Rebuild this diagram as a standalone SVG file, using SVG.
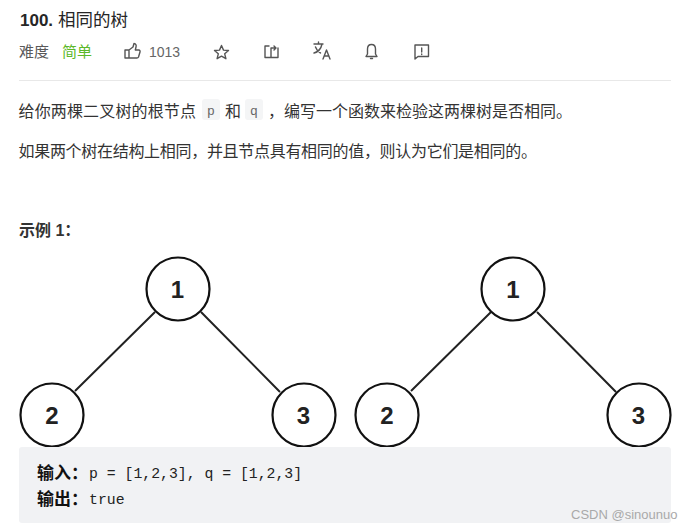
<svg xmlns="http://www.w3.org/2000/svg" width="694" height="529" viewBox="0 0 694 529">
<style>
text{font-family:"Liberation Sans","Noto Sans CJK SC",sans-serif;fill:#262626}
.b{font-size:16px;fill:#333}
.h{font-weight:bold}
.k{font-size:17px;font-weight:bold;fill:#111}
.m{font-family:"Liberation Mono","Noto Sans CJK SC",monospace;font-size:14.8px;fill:#222}
.c{font-family:"Liberation Mono",monospace;font-size:13px;fill:#666;text-anchor:middle}
.chip{fill:#f4f5f6}
.ic{fill:none;stroke:#555;stroke-width:1.4;stroke-linejoin:round;stroke-linecap:round}
.node{fill:#fff;stroke:#111;stroke-width:2.2}
.edge{stroke:#222;stroke-width:2;fill:none}
.n{font-size:24px;font-weight:bold;fill:#222;text-anchor:middle}
</style>
<rect width="694" height="529" fill="#fff"/>
<text x="20" y="26" font-size="17" font-weight="bold">100.</text>
<text x="58" y="26" font-size="17.500">相同的树</text>
<text x="19" y="57" style="font-size:15px;fill:#595959">难度</text>
<text x="62" y="57" style="font-size:15px;fill:#5cb82a">简单</text>
<g id="icons" class="ic">
<path d="M125 50v8h4v-8zM129 50l4-3 1-3.500c2 0 2.500 2 2 3.500l-.7 3h3.500c1 0 1.500 1 1.200 2l-1.500 5c-.3.800-1 1-1.700 1H129"/>
<path d="M221.500 45.500l2 4.600 5 .4-3.800 3.300 1.200 4.900-4.400-2.600-4.400 2.600 1.200-4.900-3.800-3.300 5-.4z"/>
<path d="M269 46h-4v11.500h13V48M271 57v-9h3.500M274 46l2 2-2 2"/>
<path d="M314 47h9M318.500 45v2M322 47c-1 5-4 8-8 9M315.500 50c1 3 3 5 5 6M323 62l3.500-9 3.500 9M324.300 59h4.500" transform="translate(0 -3)"/>
<path d="M371.500 44.500c-2.500 0-4 2-4 4.500v5l-1.500 2.500h11l-1.500-2.500v-5c0-2.500-1.500-4.500-4-4.500zM370.500 58.500h2"/>
<path d="M415 45h13.500v11.500h-10.500l-3 2.500z"/>
<path d="M421.700 48v4M421.700 54v.5"/>
</g>
<text x="149" y="57" style="font-size:14px;fill:#666">1013</text>
<rect x="19" y="80" width="652" height="1" fill="#e8e8e8"/>
<g id="para">
<text class="b" x="18.500" y="117" letter-spacing="0.150">给你两棵二叉树的根节点</text>
<rect class="chip" x="202" y="99" width="18" height="21" rx="3"/>
<text class="c" x="211" y="115">p</text>
<text class="b" x="225" y="117">和</text>
<rect class="chip" x="245" y="99" width="18" height="21" rx="3"/>
<text class="c" x="254" y="115">q</text>
<text class="b" x="268" y="117">，编写一个函数来检验这两棵树是否相同。</text>
<text class="b" x="18.500" y="157" letter-spacing="-0.300">如果两个树在结构上相同，并且节点具有相同的值，则认为它们是相同的。</text>
<text class="b h" x="19" y="236">示例 1：</text>
</g>
<g id="connectors">
<path class="edge" d="M155 312L75 391M201 312L280 392M491 312L411 391M537 312L616 392"/>
</g>
<g id="tree1-1"><circle class="node" cx="178" cy="289" r="31.500"/><text class="n" x="177.500" y="298">1</text></g>
<g id="tree1-2"><circle class="node" cx="52" cy="415" r="31.500"/><text class="n" x="52" y="424">2</text></g>
<g id="tree1-3"><circle class="node" cx="304" cy="415" r="31.500"/><text class="n" x="303.500" y="424">3</text></g>
<g id="tree2-1"><circle class="node" cx="513" cy="289" r="31.500"/><text class="n" x="513" y="298">1</text></g>
<g id="tree2-2"><circle class="node" cx="387" cy="415" r="31.500"/><text class="n" x="387" y="424">2</text></g>
<g id="tree2-3"><circle class="node" cx="639" cy="415" r="31.500"/><text class="n" x="638.500" y="424">3</text></g>
<g id="example">
<rect x="19" y="447" width="652" height="76" rx="3" fill="#f1f2f4"/>
<text class="k" x="37" y="479">输入：</text>
<text class="m" x="89" y="478">p = [1,2,3], q = [1,2,3]</text>
<text class="k" x="37" y="505">输出：</text>
<text class="m" x="89" y="504">true</text>
</g>
<text x="571" y="519" font-size="13" style="fill:#a9a9a9">CSDN @sinounuo</text>
</svg>
